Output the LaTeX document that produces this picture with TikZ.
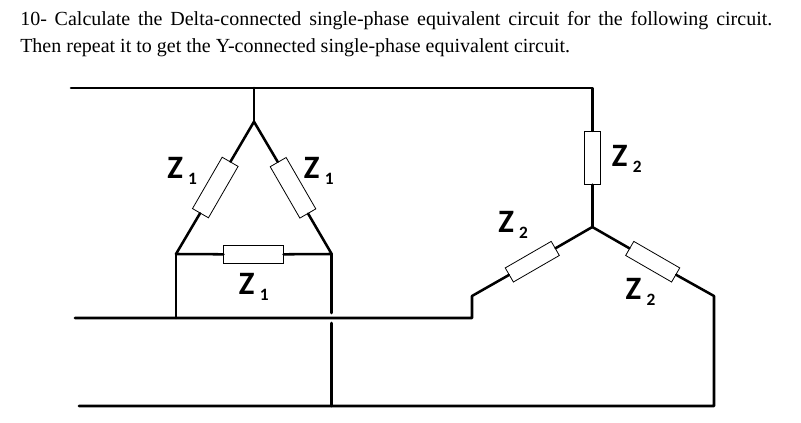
\documentclass[tikz,border=0pt]{standalone}
\usepackage{fontspec}
\setmainfont{Liberation Serif}
\newfontfamily\labfont{Carlito}
\usetikzlibrary{calc}
\newcommand{\zlab}[1]{{\labfont\fontsize{24.5}{24.5}\selectfont\bfseries Z\hspace{4pt}\raisebox{-4pt}{\fontsize{13}{13}\selectfont #1}}}
\tikzset{
  wire/.style={line width=1.9pt,line cap=round,line join=round},
  zbox/.style={draw,fill=white,line width=0.6pt,inner sep=0pt,minimum width=44.5pt,minimum height=13.8pt},
  zboxb/.style={draw,fill=white,line width=0.6pt,inner sep=0pt,minimum width=39.8pt,minimum height=12.2pt},
  zname/.style={anchor=base west,inner sep=0pt},
  qline/.style={anchor=base west,inner sep=0pt,font=\fontsize{15}{18}\selectfont}
}
\begin{document}
\begin{tikzpicture}[x=0.75pt,y=-0.75pt]
\useasboundingbox (0,0) rectangle (801,423);
\node[qline] (lineone) at (20,26) {\makebox[564pt][s]{10- Calculate the Delta-connected single-phase equivalent circuit for the following circuit.}};
\node[qline] (linetwo) at (20,52.3) {Then repeat it to get the Y-connected single-phase equivalent circuit.};

\coordinate (topl) at (71,88);
\coordinate (topm) at (254,88);
\coordinate (topr) at (592.3,88);
\coordinate (apex) at (254,121.7);
\coordinate (dl) at (176,254);
\coordinate (dr) at (331.7,254);
\coordinate (midl) at (75,318);
\coordinate (midj) at (176,318);
\coordinate (midr) at (472,318);
\coordinate (gapa) at (331.7,313);
\coordinate (gapb) at (331.7,323);
\coordinate (botl) at (79,406);
\coordinate (botj) at (331.7,406);
\coordinate (botr) at (714,406);
\coordinate (star) at (592.3,227);
\coordinate (sl) at (472,296);
\coordinate (sr) at (714,296);

\node[zbox,rotate=60] (zonel) at (215.3,187.5) {};
\node[zbox,rotate=-60] (zoner) at (293,187.8) {};
\node[zbox] (zoneb) at (253.5,254.5) {};
\node[zboxb,rotate=90] (ztwot) at (592.3,157.8) {};
\node[zboxb,rotate=30] (ztwol) at (532.3,261.7) {};
\node[zboxb,rotate=-30] (ztwor) at (652.7,261.7) {};

\draw[wire] (topl) -- (topr) -- (ztwot);
\draw[wire] (topm) -- (apex);
\draw[wire] (apex) -- (zonel);
\draw[wire] (zonel) -- (dl);
\draw[wire] (apex) -- (zoner);
\draw[wire] (zoner) -- (dr);
\draw[wire] (dl) -- (zoneb);
\draw[wire] (zoneb) -- (dr);
\draw[wire] (dl) -- (midj);
\draw[wire] (dr) -- (gapa);
\draw[wire] (gapb) -- (botj);
\draw[wire] (midl) -- (midr) -- (sl) -- (ztwol);
\draw[wire] (ztwol) -- (star);
\draw[wire] (ztwot) -- (star);
\draw[wire] (star) -- (ztwor);
\draw[wire] (ztwor) -- (sr) -- (botr) -- (botl);

\node[zname] (labone) at (167,179) {\zlab{1}};
\node[zname] (labtwo) at (303.7,179) {\zlab{1}};
\node[zname] (labthree) at (238.7,295) {\zlab{1}};
\node[zname] (labfour) at (611.7,166.7) {\zlab{2}};
\node[zname] (labfive) at (498,232.7) {\zlab{2}};
\node[zname] (labsix) at (625.4,300) {\zlab{2}};
\end{tikzpicture}
\end{document}
